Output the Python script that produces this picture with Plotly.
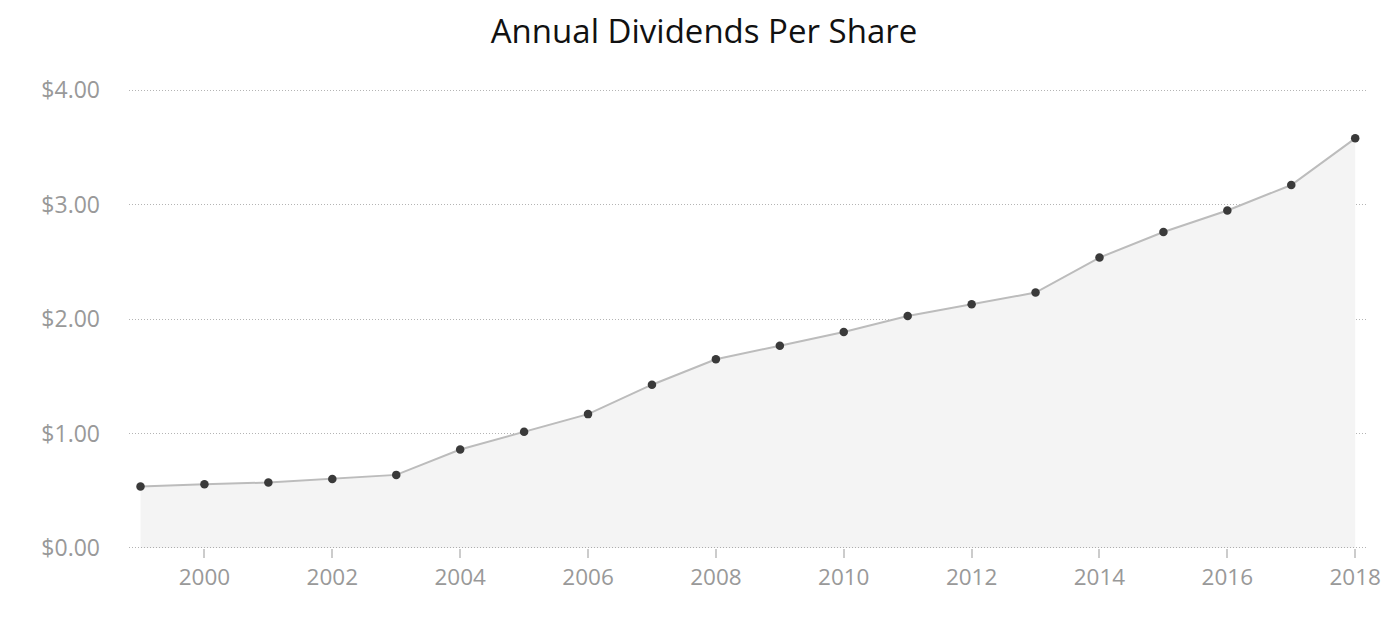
import plotly.graph_objects as go

# annual dividends per share
years = [1999, 2000, 2001, 2002, 2003, 2004, 2005, 2006, 2007, 2008,
         2009, 2010, 2011, 2012, 2013, 2014, 2015, 2016, 2017, 2018]
dividends = [0.537, 0.558, 0.572, 0.604, 0.639, 0.861, 1.015, 1.170, 1.427, 1.649,
             1.768, 1.888, 2.028, 2.130, 2.232, 2.538, 2.761, 2.950, 3.172, 3.580]
y_ticks = [0, 1, 2, 3, 4]
y_tick_labels = ["$0.00", "$1.00", "$2.00", "$3.00", "$4.00"]
x_ticks = list(range(2000, 2019, 2))

fig = go.Figure()
fig.add_trace(go.Scatter(
    x=years, y=dividends,
    mode="lines+markers",
    fill="tozeroy",
    fillcolor="#f4f4f4",
    line=dict(color="#bcbcbc", width=2),
    marker=dict(color="#3a3a3a", size=8.5),
    showlegend=False,
))

# dotted baseline
fig.add_shape(type="line", xref="paper", yref="y", x0=0, x1=1, y0=0, y1=0,
              line=dict(color="#666666", width=1, dash="1px,2px"), layer="above")

# page body has an 8px margin, so the figure is a bit smaller than the window
fig.update_layout(
    width=1392, height=621,
    paper_bgcolor="white", plot_bgcolor="white",
    font=dict(family="Open Sans", color="#999999"),
    margin=dict(l=121, r=32, t=80, b=81),
    title=dict(text="Annual Dividends Per Share", x=0.5, xanchor="center",
               y=0.962, yanchor="middle",
               font=dict(size=33, color="#111111", family="Open Sans")),
    xaxis=dict(range=[1998.82, 2018.2], tickvals=x_ticks,
               ticks="outside", ticklen=9, tickcolor="#cccccc", tickwidth=2,
               showgrid=False, zeroline=False, showline=False,
               tickfont=dict(size=22.5, color="#999999")),
    yaxis=dict(range=[0, 4.02], tickvals=y_ticks, ticktext=y_tick_labels,
               showgrid=True, gridcolor="#b4b4b4", griddash="1px,2px", gridwidth=1,
               zeroline=False, showline=False, ticks="",
               ticklabelstandoff=28,
               tickfont=dict(size=23, color="#999999")),
)

fig.write_html("out.html")
